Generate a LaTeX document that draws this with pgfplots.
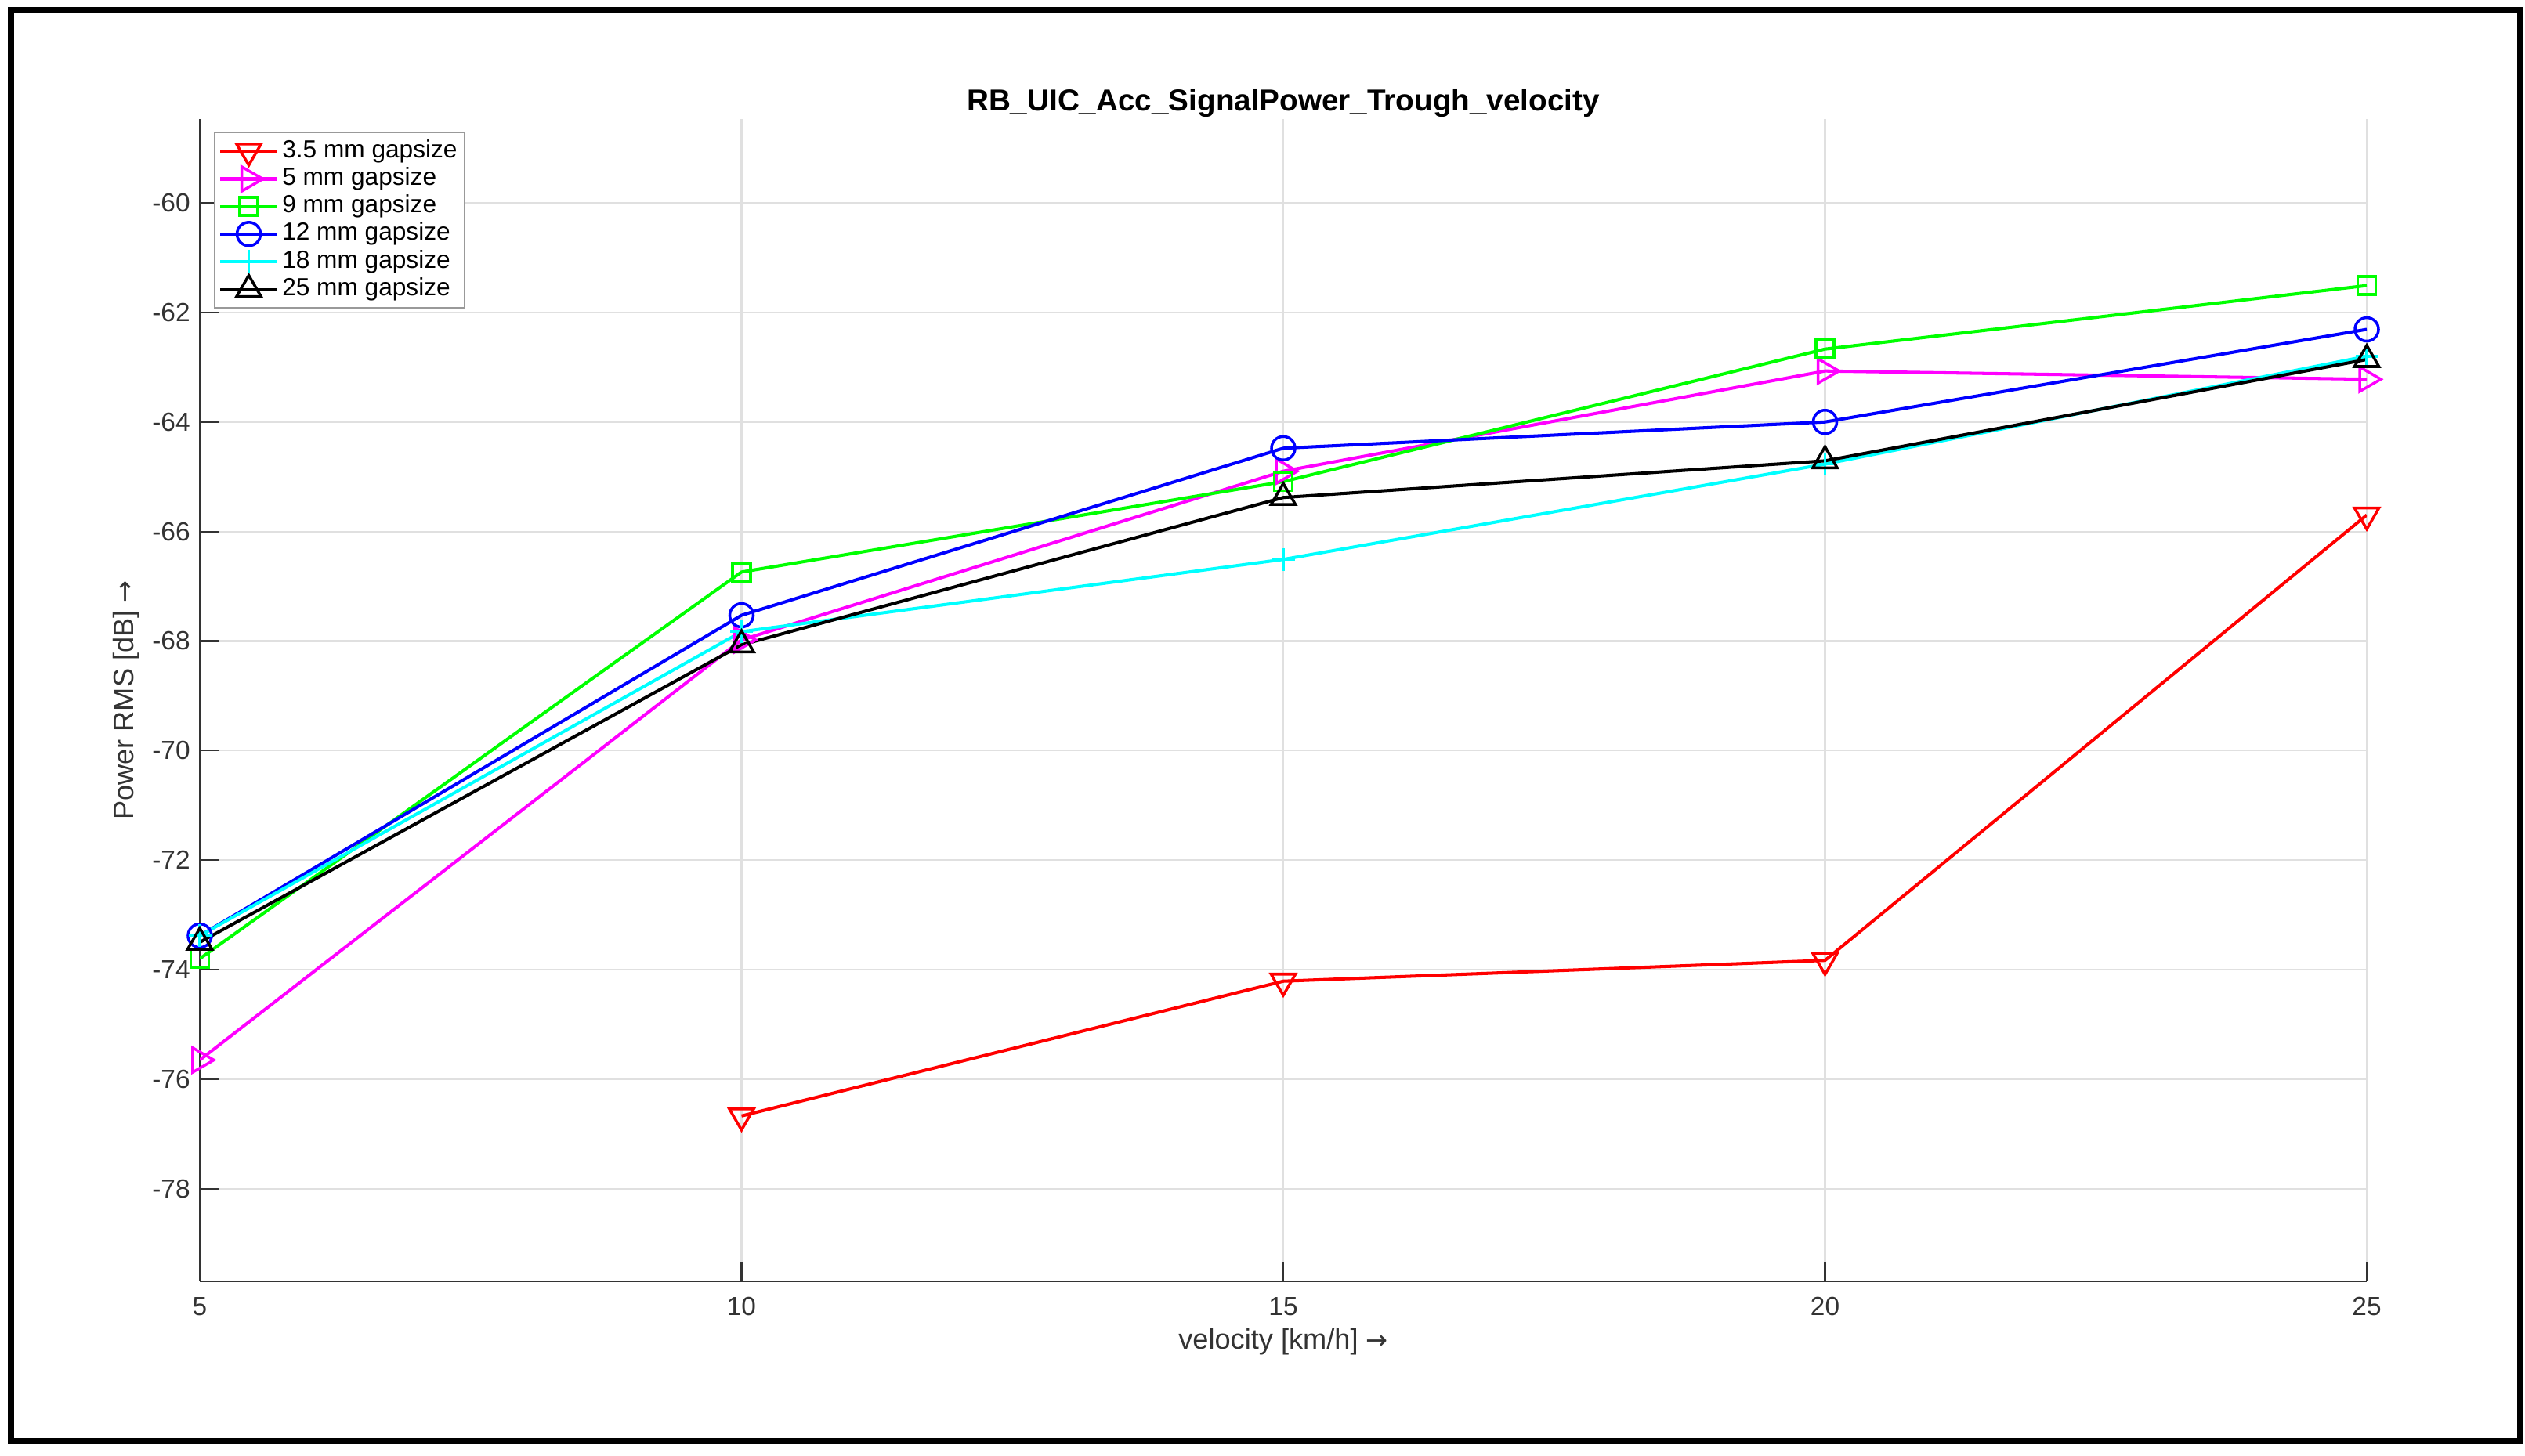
\documentclass[border=0pt]{standalone}
\usepackage{pgfplots}
\pgfplotsset{compat=1.18}
\usepackage{fontspec}
\setmainfont{Liberation Sans}
\newfontfamily\arrowfont{DejaVu Sans}
\definecolor{mred}{rgb}{1,0,0}
\definecolor{mmag}{rgb}{1,0,1}
\definecolor{mgreen}{rgb}{0,1,0}
\definecolor{mblue}{rgb}{0,0,1}
\definecolor{mcyan}{rgb}{0,1,1}
\begin{document}
\begin{tikzpicture}
\path[use as bounding box] (0,0) rectangle (322.3mm,185.9mm);
\fill[white] (0,0) rectangle (322.3mm,185.9mm);
\draw[line width=0.75mm] (1.4mm,1.9mm) rectangle (321.7mm,184.6mm);
\begin{axis}[
  at={(25.5mm,22.3mm)}, anchor=south west,
  scale only axis, width=276.6mm, height=148.4mm,
  xmin=5, xmax=25, ymin=-79.69, ymax=-58.47,
  xtick={5,10,15,20,25},
  ytick={-78,-76,-74,-72,-70,-68,-66,-64,-62,-60},
  yticklabels={-78,-76,-74,-72,-70,-68,-66,-64,-62,-60},
  xticklabels={5,10,15,20,25},
  axis x line*=bottom, axis y line*=left,
  axis line style={black!80, line width=0.6pt},
  tick align=inside, major tick length=2.5mm,
  tick style={black!80, line width=0.6pt},
  grid=major, major grid style={black!12, line width=0.6pt},
  ticklabel style={font=\fontsize{9.5}{11}\selectfont, text=black!80},
  xticklabel style={yshift=-0.8mm},
  title={RB\_UIC\_Acc\_SignalPower\_Trough\_velocity},
  title style={at={(axis description cs:0.5,0.993)}, anchor=base, font=\bfseries\fontsize{11}{13}\selectfont},
  xlabel={velocity [km/h] {\arrowfont\fontsize{9.5}{11}\selectfont →}},
  xlabel style={at={(axis description cs:0.5,-0.058)}, anchor=base, font=\fontsize{10.3}{12}\selectfont, text=black!80},
  ylabel={Power RMS [dB] {\arrowfont\fontsize{9.5}{11}\selectfont →}},
  ylabel style={at={(axis description cs:-0.0338,0.5)}, anchor=center, font=\fontsize{10.3}{12}\selectfont, text=black!80},
  legend cell align=left,
  legend style={at={(axis description cs:0.0065,0.989)}, anchor=north west,
    draw=black!40, line width=0.6pt, inner xsep=0.5mm, inner ysep=0.6mm,
    font=\fontsize{9}{10}\selectfont,
    nodes={inner ysep=0.8pt, inner xsep=1.2pt, text height=6.5pt, text depth=1.9pt}},
  legend image code/.code={
    \draw[mark repeat=2,mark phase=2,#1] plot coordinates {(0mm,0mm) (3.65mm,0mm) (7.3mm,0mm)};
  },
  every axis plot/.append style={line width=1.15pt},
]
\addplot[mred, mark=triangle, mark size=1.8mm, mark options={rotate=180, line width=1pt}]
  coordinates {(10,-76.67) (15,-74.21) (20,-73.83) (25,-65.70)};
\addlegendentry{3.5 mm gapsize}
\addplot[mmag, mark=triangle, mark size=1.8mm, mark options={rotate=-90, line width=1pt}]
  coordinates {(5,-75.65) (10,-67.98) (15,-64.90) (20,-63.07) (25,-63.22)};
\addlegendentry{5 mm gapsize}
\addplot[mgreen, mark=square, mark size=1.15mm, mark options={line width=1pt}]
  coordinates {(5,-73.80) (10,-66.74) (15,-65.09) (20,-62.67) (25,-61.51)};
\addlegendentry{9 mm gapsize}
\addplot[mblue, mark=o, mark size=1.5mm, mark options={line width=1pt}]
  coordinates {(5,-73.38) (10,-67.53) (15,-64.48) (20,-64.00) (25,-62.31)};
\addlegendentry{12 mm gapsize}
\addplot[mcyan, mark=+, mark size=1.45mm, mark options={line width=1pt}]
  coordinates {(5,-73.38) (10,-67.83) (15,-66.51) (20,-64.77) (25,-62.80)};
\addlegendentry{18 mm gapsize}
\addplot[black, mark=triangle, mark size=1.8mm, mark options={line width=1pt}]
  coordinates {(5,-73.50) (10,-68.07) (15,-65.38) (20,-64.71) (25,-62.86)};
\addlegendentry{25 mm gapsize}
\end{axis}
\end{tikzpicture}
\end{document}
